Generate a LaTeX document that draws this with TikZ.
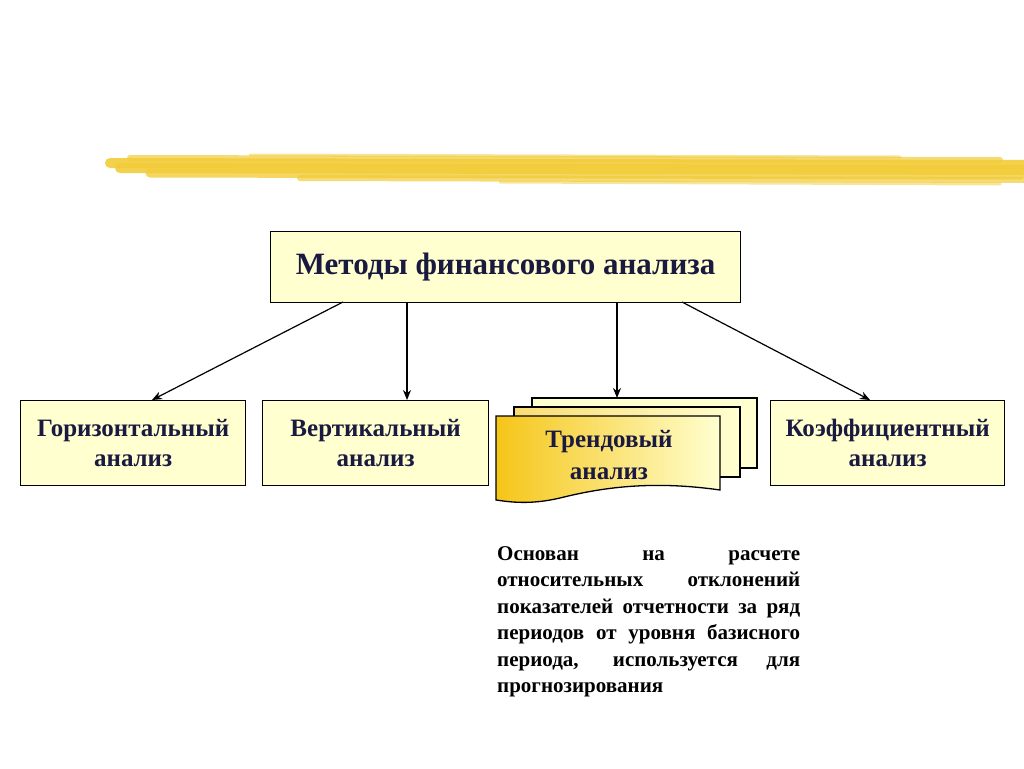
\documentclass[tikz,border=0pt]{standalone}
\usepackage{fontspec}
\setmainfont{Liberation Serif}
\usetikzlibrary{arrows.meta}
\definecolor{boxfill}{HTML}{FFFFD0}
\definecolor{txt}{HTML}{1A1A40}
\definecolor{gold}{HTML}{F5C518}
\definecolor{brush}{HTML}{F2CC3A}
\begin{document}
\begin{tikzpicture}[x=1pt,y=-1pt,
  box/.style={draw=black,line width=1.3pt,fill=boxfill,font=\bfseries\fontsize{25}{30}\selectfont,text=txt,align=center},
  arr/.style={-{Stealth[length=10pt,width=8pt]},line width=1.2pt}]
\useasboundingbox[fill=white] (0,0) rectangle (1024,768);
% brush stroke
\foreach \y/\w/\o/\a/\b in {158/6/0.7/130/1000,163/10/0.9/110/1024,168/10/0.9/120/1024,173/9/0.8/150/1020,178/6/0.7/300/1024,155/3/0.5/250/900,182/3/0.5/500/1000}
  \draw[brush,opacity=\o,line width=\w pt,line cap=round] (\a,\y) -- (\b,\y+2);
% top box
\node[box,minimum width=470,minimum height=71,anchor=north west,font=\bfseries\fontsize{31}{36}\selectfont] (top) at (270,231) {Методы финансового анализа};
\node[box,minimum width=225,minimum height=85,anchor=north west] (h) at (20,400) {Горизонтальный\\анализ};
\node[box,minimum width=226,minimum height=85,anchor=north west] (v) at (262,400) {Вертикальный\\анализ};
\node[box,minimum width=234,minimum height=85,anchor=north west] (k) at (770,400) {Коэффициентный\\анализ};
% trend multi-doc
\draw[line width=1.3pt,fill=boxfill] (532,398) rectangle (757,468);
\draw[line width=1.3pt,left color=gold!60,right color=boxfill] (514,407) rectangle (740,477);
\draw[line width=1.3pt,left color=gold,right color=boxfill] (496,416) -- (720,416) -- (720,490)
   .. controls (650,480) and (600,488) .. (560,498) .. controls (530,505) and (510,502) .. (496,500) -- cycle;
\node[font=\bfseries\fontsize{25}{32}\selectfont,text=txt,align=center] (t) at (609,455) {Трендовый\\анализ};
\coordinate (tt) at (617,398);
% arrows
\draw[arr] (343,302) -- (h.north -| 152,0);
\draw[arr] (407,302) -- (407,400);
\draw[arr] (617,302) -- (tt);
\draw[arr] (682,302) -- (870,400);
% description
\node[anchor=north west,text width=303,align=justify,inner sep=0,font=\bfseries\fontsize{21}{26.5}\selectfont] (d) at (497,546)
{Основан на расчете относительных отклонений показателей отчетности за ряд периодов от уровня базисного периода, используется для прогнозирования};
\end{tikzpicture}
\end{document}
